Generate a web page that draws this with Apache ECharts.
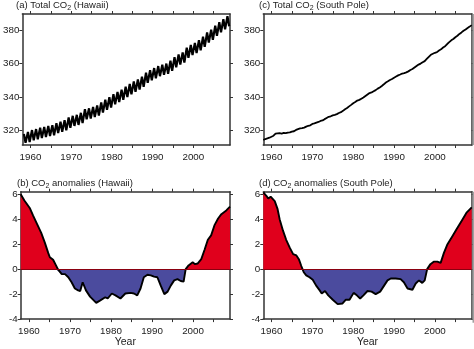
<!DOCTYPE html>
<html><head><meta charset="utf-8">
<script src="https://cdn.jsdelivr.net/npm/echarts@6/dist/echarts.min.js"></script>
<style>html,body{margin:0;padding:0;background:#fff}#c{width:474px;height:349px}</style>
</head><body><div id="c"></div>
<script>
// (a) Mauna Loa, Hawaii: yearly seasonal maximum (May) and minimum (October), ppm
const hawaiiYears = [1958,1959,1960,1961,1962,1963,1964,1965,1966,1967,1968,1969,1970,1971,1972,1973,1974,1975,1976,1977,1978,1979,1980,1981,1982,1983,1984,1985,1986,1987,1988,1989,1990,1991,1992,1993,1994,1995,1996,1997,1998,1999,2000,2001,2002,2003,2004,2005,2006,2007,2008];
const hawaiiPeak = [317.6,318.9,320.0,320.6,321.4,321.9,322.5,322.9,324.2,325.1,326.0,327.6,328.6,329.2,330.4,332.6,333.1,334.0,334.9,336.7,338.3,339.8,341.7,343.0,344.4,346.1,347.8,349.3,350.5,352.2,354.6,356.1,357.4,358.6,359.4,360.1,361.9,363.9,365.6,366.8,369.7,371.4,372.6,374.2,376.3,378.9,380.6,382.9,385.0,386.9,388.7];
const hawaiiTrough = [312.4,312.8,313.8,314.5,315.2,315.8,316.4,316.9,318.2,319.0,319.8,321.4,322.5,323.1,324.2,326.5,327.0,327.9,328.8,330.6,332.2,333.6,335.5,336.9,338.3,339.9,341.6,343.1,344.4,346.1,348.5,350.0,351.2,352.5,353.3,354.0,355.7,357.8,359.5,360.7,363.6,365.3,366.5,368.1,370.2,372.8,374.5,376.8,378.9,380.8,382.6];
const peakMonth = 5, troughMonth = 10;

// (c) South Pole: January and July values, ppm
const spYears = [1958,1959,1960,1961,1962,1963,1964,1965,1966,1967,1968,1969,1970,1971,1972,1973,1974,1975,1976,1977,1978,1979,1980,1981,1982,1983,1984,1985,1986,1987,1988,1989,1990,1991,1992,1993,1994,1995,1996,1997,1998,1999,2000,2001,2002,2003,2004,2005,2006,2007,2008,2009];
const spJan = [314.0,315.0,316.0,317.8,318.2,318.3,318.5,319.1,320.1,321.0,321.5,322.6,323.7,324.5,325.5,326.6,328.0,328.9,329.6,330.8,332.6,334.3,336.2,337.8,338.9,340.5,342.3,343.4,345.0,346.6,348.7,350.2,351.6,353.0,354.1,354.8,356.2,357.7,359.5,360.9,362.9,365.4,366.6,368.0,369.8,371.9,374.1,376.0,378.0,379.9,381.6,383.3];
const spJul = [314.6,315.4,316.6,318.0,317.9,318.2,318.6,319.3,320.6,321.2,322.1,322.9,324.0,324.9,325.8,327.3,328.3,329.2,330.3,331.6,333.3,335.2,336.9,338.2,339.6,341.4,342.7,344.1,345.7,347.6,349.4,350.8,352.3,353.5,354.4,355.4,356.8,358.6,360.1,361.6,364.2,366.0,367.0,368.7,370.6,373.0,374.9,376.9,378.9,380.7,382.4,null];

// (b) anomalies Hawaii
const hawAnomYears = [1958.0,1958.9,1960.2,1961.0,1962.0,1963.0,1963.9,1964.7,1965.1,1965.9,1966.6,1967.05,1968.0,1968.8,1969.6,1970.4,1971.2,1972.0,1972.5,1973.1,1973.9,1974.9,1976.4,1977.4,1978.6,1979.2,1980.2,1981.1,1982.3,1983.5,1984.8,1985.6,1986.4,1987.2,1988.0,1988.9,1989.7,1990.5,1991.3,1992.1,1993.0,1993.8,1994.6,1995.4,1996.2,1997.0,1997.7,1998.2,1998.9,1999.9,2000.5,2001.1,2002.0,2002.8,2003.6,2004.4,2005.2,2006.1,2006.9,2008.1,2009.0];
const hawAnomValues = [6.0,5.5,4.9,4.3,3.6,2.9,2.1,1.3,0.95,0.75,0.3,0.0,-0.4,-0.4,-0.65,-1.05,-1.55,-1.7,-1.75,-1.05,-1.7,-2.2,-2.7,-2.5,-2.25,-2.35,-1.95,-2.1,-2.35,-1.95,-1.9,-1.95,-2.1,-1.55,-0.65,-0.45,-0.5,-0.6,-0.65,-1.3,-2.0,-1.8,-1.3,-0.9,-0.8,-0.95,-1.0,0.0,0.3,0.55,0.4,0.45,0.8,1.55,2.35,2.7,3.5,4.05,4.4,4.7,5.0];

// (d) anomalies South Pole
const spAnomYears = [1958.0,1958.8,1959.2,1959.8,1960.2,1960.8,1961.5,1962.0,1962.8,1963.6,1964.5,1965.3,1966.1,1966.7,1967.3,1967.6,1967.9,1968.5,1969.3,1970.1,1970.9,1971.8,1972.3,1973.1,1973.9,1975.0,1976.2,1977.4,1978.2,1979.1,1980.1,1980.9,1981.7,1982.5,1983.5,1984.5,1985.5,1986.6,1987.6,1988.4,1989.2,1990.4,1991.6,1992.4,1993.3,1994.5,1995.3,1996.1,1996.9,1997.5,1998.1,1998.9,1999.7,2000.6,2001.4,2002.2,2003.0,2004.2,2005.4,2006.6,2007.8,2009.0];
const spAnomValues = [6.15,5.85,5.65,5.8,5.8,5.45,4.8,4.0,3.1,2.35,1.7,1.2,1.1,0.8,0.25,0.0,-0.25,-0.5,-0.65,-0.85,-1.3,-1.7,-1.95,-1.75,-2.1,-2.45,-2.8,-2.75,-2.45,-2.45,-1.9,-2.1,-2.35,-2.1,-1.75,-1.8,-2.0,-1.8,-1.3,-0.9,-0.75,-0.75,-0.8,-1.05,-1.55,-1.65,-1.15,-0.9,-1.1,-0.9,0.0,0.4,0.6,0.6,0.5,1.3,1.95,2.6,3.25,3.9,4.55,4.95];

const xTicks = [1960,1965,1970,1975,1980,1985,1990,1995,2000,2005];
const xLabels = [1960,1970,1980,1990,2000];
const totalTicks = [320,340,360,380];
const anomTicks = [-4,-2,0,2,4,6];
const titles = ['(a) Total CO|(Hawaii)','(c) Total CO|(South Pole)','(b) CO|anomalies (Hawaii)','(d) CO|anomalies (South Pole)'];

const FONT = 'Liberation Sans, Arial, Helvetica, sans-serif';
const RED = '#e0001c', BLUE = '#4b4b9e', AXC = '#333';

const hawaiiData = [];
hawaiiYears.forEach((y,i)=>{
  hawaiiData.push([y+(peakMonth-0.5)/12, hawaiiPeak[i]]);
  hawaiiData.push([y+(troughMonth-0.5)/12, hawaiiTrough[i]]);
});
const spData = [];
spYears.forEach((y,i)=>{
  spData.push([y, spJan[i]]);
  if (spJul[i] != null) spData.push([y+0.5, spJul[i]]);
});
const hawAnom = hawAnomYears.map((y,i)=>[y, hawAnomValues[i]]);
const spAnom = spAnomYears.map((y,i)=>[y, spAnomValues[i]]);
const posPart = arr => arr.map(p=>[p[0], Math.max(p[1],0)]);
const negPart = arr => arr.map(p=>[p[0], Math.min(p[1],0)]);

const grids = [
  {left: 20.7, top: 14, width: 209.3, height: 131},
  {left: 263.3, top: 14, width: 208.4, height: 131},
  {left: 20.7, top: 191.7, width: 209.3, height: 131},
  {left: 263.3, top: 191.7, width: 208.4, height: 131}
];
const yRanges = [[311,390],[311,390],[-4,6.2],[-4,6.2]];

const xAxes = [], yAxes = [];
grids.forEach((g,gi)=>{
  ['bottom','top'].forEach(pos=>{
    xAxes.push({
      type:'value', gridIndex: gi, position: pos, min:1958, max:2009,
      axisLine:{show:true, onZero:false, lineStyle:{color:AXC, width:1.5}},
      axisTick:{show:true, inside:false, length:3, customValues:xTicks, lineStyle:{color:AXC, width:1}},
      axisLabel:{show: pos==='bottom', customValues:xLabels, margin:7, fontSize:9.8, color:'#222', fontFamily:FONT, formatter: v => String(v)},
      splitLine:{show:false},
      name: (pos==='bottom' && gi>=2) ? 'Year' : '',
      nameLocation:'middle', nameGap:16,
      nameTextStyle:{fontSize:10.5, color:'#222', fontFamily:FONT}
    });
  });
  ['left','right'].forEach(pos=>{
    yAxes.push({
      type:'value', gridIndex: gi, position: pos, min:yRanges[gi][0], max:yRanges[gi][1],
      axisLine:{show:true, onZero:false, lineStyle:{color:AXC, width:1.5}},
      axisTick:{show:true, inside:false, length:3, customValues: gi<2?totalTicks:anomTicks, lineStyle:{color:AXC, width:1}},
      axisLabel:{show: pos==='left', customValues: gi<2?totalTicks:anomTicks, margin:3, fontSize:9.8, color:'#222', fontFamily:FONT, formatter: v => String(v)},
      splitLine:{show:false}
    });
  });
});

const titleLeft = [16, 259, 17, 259];
const titleTop = [-1, -1, 177, 177];
const title = titles.map((t,i)=>{
  const parts = t.split('|');
  return {
    text: '{t|'+parts[0]+'}{s|2}{t| '+parts[1]+'}',
    left: titleLeft[i], top: titleTop[i], padding:0,
    textStyle:{fontSize:9.5, fontWeight:'normal', color:'#222', fontFamily:FONT,
      rich:{t:{fontSize:9.5, color:'#222', fontFamily:FONT}, s:{fontSize:7, color:'#222', fontFamily:FONT, padding:[6,0,0,0]}}}
  };
});

const zeroLine = {silent:true, symbol:['none','none'], label:{show:false}, lineStyle:{color:'#8a0010', width:1, type:'solid'}, data:[{yAxis:0}]};

const areaSeries = (xi, data, color) => ({type:'line', xAxisIndex:xi, yAxisIndex:xi, data:data, symbol:'none',
  lineStyle:{width:0, color:color}, itemStyle:{color:color}, areaStyle:{opacity:1, color:color, origin:0}, z:1});

const series = [
  {type:'line', xAxisIndex:0, yAxisIndex:0, data:hawaiiData, symbol:'none', lineStyle:{color:'#000', width:2.2}},
  {type:'line', xAxisIndex:2, yAxisIndex:2, data:spData, symbol:'none', lineStyle:{color:'#000', width:1.8}},
  areaSeries(4, posPart(hawAnom), RED),
  areaSeries(4, negPart(hawAnom), BLUE),
  {type:'line', xAxisIndex:4, yAxisIndex:4, data:hawAnom, symbol:'none', lineStyle:{color:'#000', width:1.9}, markLine:zeroLine, z:3},
  areaSeries(6, posPart(spAnom), RED),
  areaSeries(6, negPart(spAnom), BLUE),
  {type:'line', xAxisIndex:6, yAxisIndex:6, data:spAnom, symbol:'none', lineStyle:{color:'#000', width:1.9}, markLine:zeroLine, z:3}
];

const chart = echarts.init(document.getElementById('c'), null, {renderer:'canvas'});
chart.setOption({
  animation:false,
  backgroundColor:'#fff',
  title: title,
  grid: grids,
  xAxis: xAxes,
  yAxis: yAxes,
  series: series,
  graphic:[
    {type:'rect', shape:{x:472.5, y:14, width:2, height:131}, style:{fill:'#a0a0a0'}, z:10},
    {type:'rect', shape:{x:472.5, y:191.7, width:2, height:131}, style:{fill:'#a0a0a0'}, z:10}
  ]
});
</script>
</body></html>
